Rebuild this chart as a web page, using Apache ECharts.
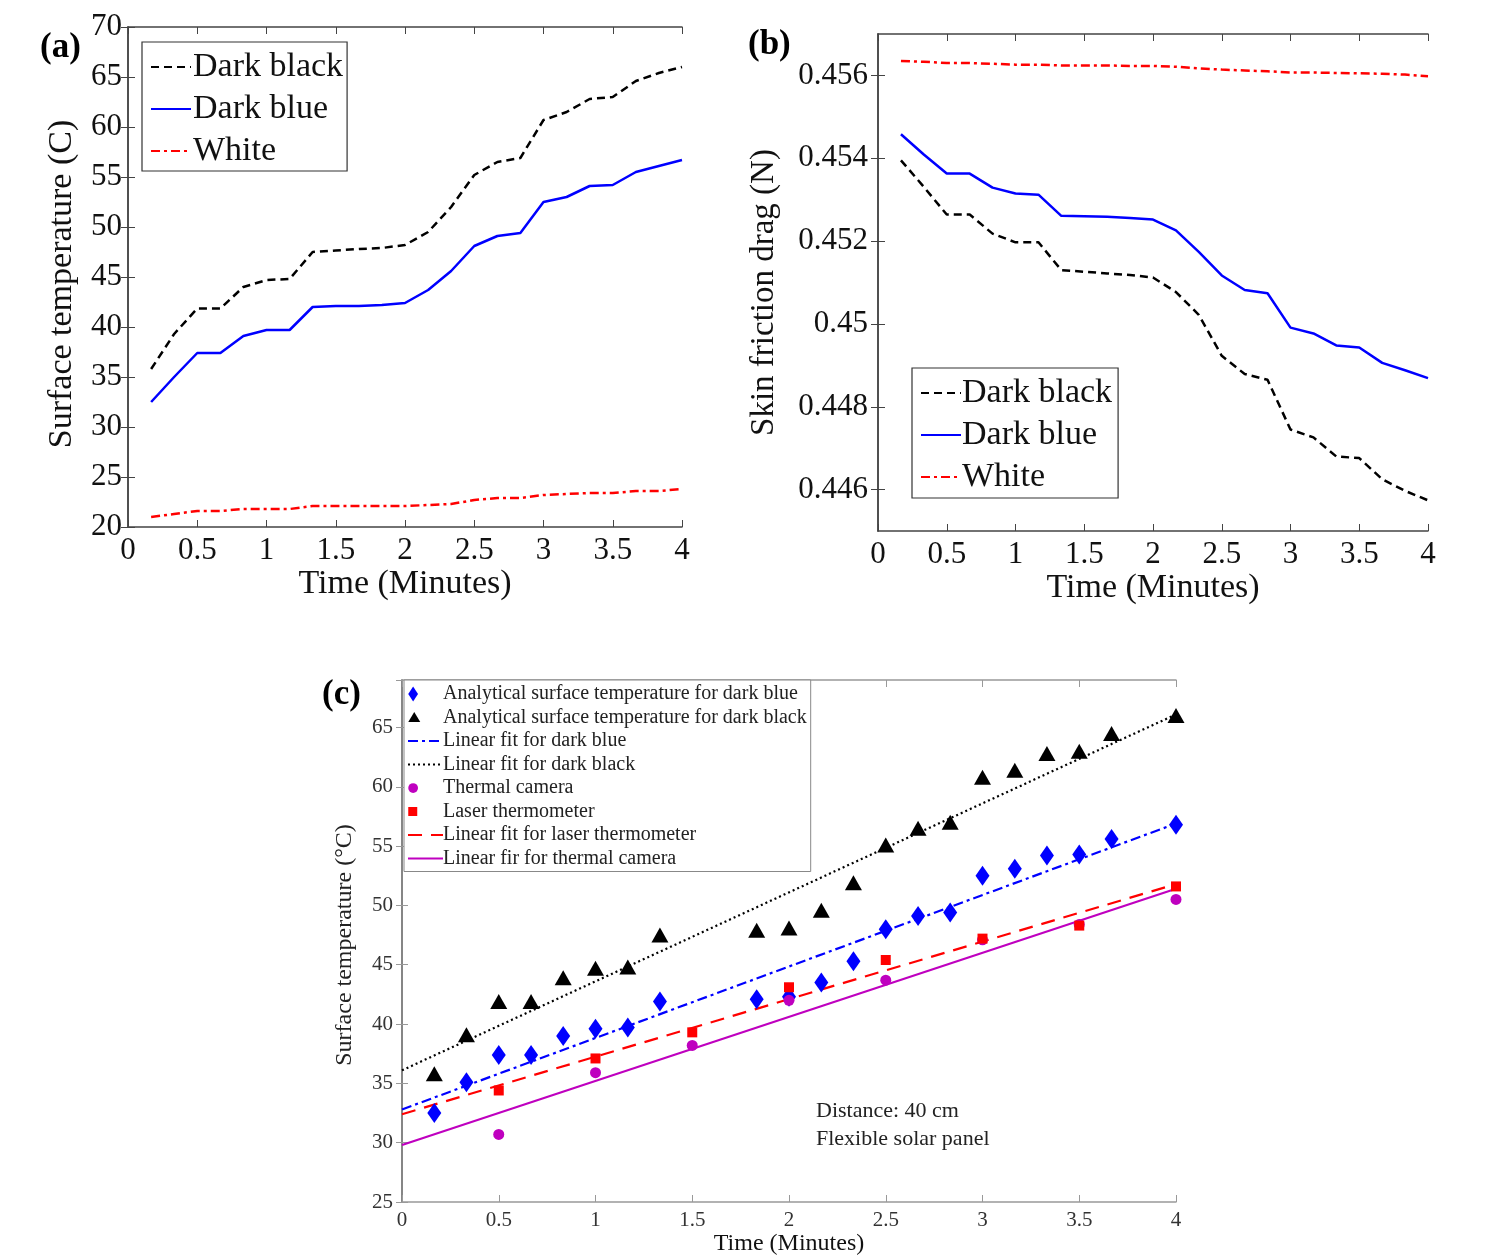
<!DOCTYPE html>
<html>
<head>
<meta charset="UTF-8">
<title>Surface temperature and skin friction drag</title>
<script src="https://cdn.jsdelivr.net/npm/echarts@6/dist/echarts.min.js"></script>
<style>html,body{margin:0;background:#fff;} #main{width:1494px;height:1258px;}</style>
</head>
<body>
<div id="main"></div>
<script>
// time axis of panels (a) and (b), minutes
var timeAB = [0.167, 0.333, 0.5, 0.667, 0.833, 1, 1.167, 1.333, 1.5, 1.667, 1.833, 2,
              2.167, 2.333, 2.5, 2.667, 2.833, 3, 3.167, 3.333, 3.5, 3.667, 3.833, 4];

// (a) surface temperature (C)
var tempBlack = [35.8, 39.3, 41.85, 41.85, 44.0, 44.7, 44.8, 47.5, 47.65, 47.8, 47.9, 48.2,
                 49.5, 52.0, 55.2, 56.5, 56.9, 60.7, 61.5, 62.8, 63.0, 64.6, 65.4, 66.0];
var tempBlue = [32.5, 35.0, 37.4, 37.4, 39.1, 39.7, 39.7, 42.0, 42.1, 42.1, 42.2, 42.4,
                43.7, 45.6, 48.1, 49.1, 49.4, 52.5, 53.0, 54.1, 54.2, 55.5, 56.1, 56.7];
var tempWhite = [21.0, 21.3, 21.6, 21.6, 21.8, 21.8, 21.8, 22.1, 22.1, 22.1, 22.1, 22.1,
                 22.2, 22.3, 22.7, 22.9, 22.9, 23.2, 23.3, 23.4, 23.4, 23.6, 23.6, 23.8];

// (b) skin friction drag (N)
var dragBlack = [0.45395, 0.45331, 0.45264, 0.45264, 0.45218, 0.45197, 0.45197, 0.4513, 0.45126, 0.45122, 0.45118, 0.45112,
                 0.45077, 0.45022, 0.44923, 0.44879, 0.44865, 0.44745, 0.44726, 0.4468, 0.44676, 0.44625, 0.44597, 0.44574];
var dragBlue = [0.45458, 0.45409, 0.45363, 0.45363, 0.45329, 0.45315, 0.45312, 0.45261, 0.4526, 0.45259, 0.45256, 0.45252,
                0.45226, 0.45174, 0.45117, 0.45082, 0.45074, 0.44991, 0.44977, 0.44948, 0.44943, 0.44906, 0.44888, 0.44869];
var dragWhite = [0.45635, 0.45633, 0.4563, 0.4563, 0.45628, 0.45626, 0.45626, 0.45624, 0.45624, 0.45624, 0.45623, 0.45623,
                 0.45621, 0.45617, 0.45614, 0.45612, 0.4561, 0.45607, 0.45607, 0.45606, 0.45605, 0.45604, 0.45602, 0.45598];
var dragTicks = [0.446, 0.448, 0.45, 0.452, 0.454, 0.456];

// (c) analytical points
var timeC = [0.167, 0.333, 0.5, 0.667, 0.833, 1, 1.167, 1.333, 1.833, 2, 2.167,
             2.333, 2.5, 2.667, 2.833, 3, 3.167, 3.333, 3.5, 3.667, 4];
var anaBlack = [35.8, 39.1, 41.9, 41.9, 43.9, 44.7, 44.8, 47.5, 47.9, 48.1, 49.6,
                51.9, 55.1, 56.5, 57.0, 60.8, 61.4, 62.8, 63.0, 64.5, 66.0];
var anaBlue = [32.5, 35.1, 37.4, 37.4, 39.0, 39.6, 39.7, 41.9, 42.1, 42.3, 43.5,
               45.3, 48.0, 49.1, 49.4, 52.5, 53.1, 54.2, 54.3, 55.6, 56.8];
// (c) measurements
var timeMeas = [0.5, 1, 1.5, 2, 2.5, 3, 3.5, 4];
var camera = [30.7, 35.9, 38.2, 42.0, 43.7, 47.1, 48.4, 50.5];
var laser = [34.4, 37.1, 39.3, 43.1, 45.4, 47.2, 48.3, 51.6];
// (c) linear fits, end points
var fitX = [0, 4];
var fitBlue = [32.8, 56.9];
var fitBlack = [36.1, 66.1];
var fitLaser = [32.4, 51.8];
var fitCamera = [29.8, 51.4];

var FONT = 'Liberation Serif';

function zip(xs, ys) {
    var res = [];
    for (var i = 0; i < xs.length; i++) res.push([xs[i], ys[i]]);
    return res;
}

// one visible axis plus a mirrored one for the matlab style box
function xAxes(grid, fs, lineColor, labelColor, nameSize, nameGap) {
    return [{
        gridIndex: grid, type: 'value', min: 0, max: 4, interval: 0.5,
        name: 'Time (Minutes)', nameLocation: 'middle', nameGap: nameGap,
        nameTextStyle: {fontFamily: FONT, fontSize: nameSize, color: '#111'},
        axisLine: {lineStyle: {color: lineColor, width: 1.5}},
        axisTick: {inside: true, length: 7, lineStyle: {color: lineColor}},
        axisLabel: {fontFamily: FONT, fontSize: fs, color: labelColor, margin: 8},
        splitLine: {show: false}
    }, {
        gridIndex: grid, type: 'value', position: 'top', min: 0, max: 4, interval: 0.5,
        axisLine: {lineStyle: {color: lineColor, width: 1.5}},
        axisTick: {inside: true, length: 7, lineStyle: {color: lineColor}},
        axisLabel: {show: false},
        splitLine: {show: false}
    }];
}

var myChart = echarts.init(document.getElementById('main'));

var xa = xAxes(0, 31, '#444', '#111', 34, 27);
var xb = xAxes(1, 31, '#444', '#111', 34, 31);
var xc = xAxes(2, 21, '#999', '#333', 24, 27);

var yTickA = {inside: true, length: 7, lineStyle: {color: '#444'}};
var yTickC = {inside: true, length: 6, lineStyle: {color: '#999'}};

// legend markers of panel (c): the leading moves widen the box so the mark sits at the left
var iconDiamond = 'path://M0,0M46,20M6.5,0L13,10L6.5,20L0,10Z';
var iconTriangle = 'path://M0,0M46,20M0,16L8,2.5L16,16Z';
var iconCircle = 'path://M0,0M46,20M0,10A6.5,6.5,0,1,1,13,10A6.5,6.5,0,1,1,0,10Z';
var iconSquare = 'path://M0,0M46,20M0,4L12,4L12,16L0,16Z';

var option = {
    backgroundColor: '#fff',
    animation: false,
    grid: [
        {left: 128, top: 27, width: 554, height: 500},
        {left: 878, top: 34, width: 550, height: 497},
        {left: 402, top: 680, width: 774, height: 522}
    ],
    xAxis: xa.concat(xb, xc),
    yAxis: [
        {
            gridIndex: 0, type: 'value', min: 20, max: 70, interval: 5,
            name: 'Surface temperature (C)', nameLocation: 'middle', nameGap: 49,
            nameTextStyle: {fontFamily: FONT, fontSize: 34, color: '#111', padding: [0, 14, 0, 0]},
            axisLine: {lineStyle: {color: '#444', width: 1.5}},
            axisTick: yTickA,
            axisLabel: {fontFamily: FONT, fontSize: 31, color: '#111', margin: 6},
            splitLine: {show: false}
        },
        {
            gridIndex: 0, type: 'value', position: 'right', min: 20, max: 70, interval: 5,
            axisLine: {show: true, lineStyle: {color: '#444', width: 1.5}},
            axisTick: yTickA, axisLabel: {show: false}, splitLine: {show: false}
        },
        {
            gridIndex: 1, type: 'value', min: 0.445, max: 0.457,
            name: 'Skin friction drag (N)', nameLocation: 'middle', nameGap: 97,
            nameTextStyle: {fontFamily: FONT, fontSize: 33, color: '#111', padding: [0, 20, 0, 0]},
            axisLine: {lineStyle: {color: '#444', width: 1.5}},
            axisTick: {inside: true, length: 7, lineStyle: {color: '#444'}, customValues: dragTicks},
            axisLabel: {
                fontFamily: FONT, fontSize: 31, color: '#111', margin: 10,
                customValues: dragTicks,
                formatter: function (v) { return String(parseFloat(v.toFixed(3))); }
            },
            splitLine: {show: false}
        },
        {
            gridIndex: 1, type: 'value', position: 'right', min: 0.445, max: 0.457,
            axisLine: {show: true, lineStyle: {color: '#444', width: 1.5}},
            axisTick: {inside: true, length: 7, lineStyle: {color: '#444'}, customValues: dragTicks},
            axisLabel: {show: false, customValues: dragTicks}, splitLine: {show: false}
        },
        {
            gridIndex: 2, type: 'value', min: 25, max: 69, interval: 5,
            name: 'Surface temperature (°C)', nameLocation: 'middle', nameGap: 45,
            nameTextStyle: {fontFamily: FONT, fontSize: 24, color: '#222', padding: [0, 8, 0, 0]},
            axisLine: {lineStyle: {color: '#999', width: 1.5}},
            axisTick: yTickC,
            axisLabel: {fontFamily: FONT, fontSize: 21, color: '#333', margin: 9, showMaxLabel: false},
            splitLine: {show: false}
        },
        {
            gridIndex: 2, type: 'value', position: 'right', min: 25, max: 69, interval: 5,
            axisLine: {show: true, lineStyle: {color: '#777', width: 1.5}},
            axisTick: yTickC, axisLabel: {show: false}, splitLine: {show: false}
        }
    ],
    legend: [
        {
            data: ['Dark black', 'Dark blue', 'White'],
            orient: 'vertical', left: 142, top: 42,
            itemWidth: 40, itemHeight: 14, itemGap: 8,
            itemStyle: {opacity: 0},
            padding: [8, 4, 3, 8],
            borderColor: '#333', borderWidth: 1.2, backgroundColor: '#fff',
            textStyle: {fontFamily: FONT, fontSize: 34, color: '#111', lineHeight: 34, padding: [0, 0, 0, -3]}
        },
        {
            data: ['Dark black', 'Dark blue', 'White'],
            orient: 'vertical', left: 912, top: 368,
            itemWidth: 40, itemHeight: 14, itemGap: 8,
            itemStyle: {opacity: 0},
            padding: [8, 6, 4, 8],
            borderColor: '#333', borderWidth: 1.2, backgroundColor: '#fff',
            textStyle: {fontFamily: FONT, fontSize: 34, color: '#111', lineHeight: 34, padding: [0, 0, 0, -4]}
        },
        {
            data: [
                {name: 'Analytical surface temperature for dark blue', icon: iconDiamond},
                {name: 'Analytical surface temperature for dark black', icon: iconTriangle},
                {name: 'Linear fit for dark blue', itemStyle: {opacity: 0}},
                {name: 'Linear fit for dark black', itemStyle: {opacity: 0}},
                {name: 'Thermal camera', icon: iconCircle},
                {name: 'Laser thermometer', icon: iconSquare},
                {name: 'Linear fit for laser thermometer', itemStyle: {opacity: 0}},
                {name: 'Linear fir for thermal camera', itemStyle: {opacity: 0}}
            ],
            orient: 'vertical', left: 404, top: 680,
            itemWidth: 35, itemHeight: 15, itemGap: 3.5,
            padding: [4, 4, 3, 3],
            borderColor: '#888', borderWidth: 1, backgroundColor: '#fff',
            textStyle: {fontFamily: FONT, fontSize: 20, color: '#222', lineHeight: 20, padding: [0, 0, 0, -5]}
        }
    ],
    graphic: [
        {type: 'text', left: 40, top: 30, style: {text: '(a)', font: 'bold 35px "Liberation Serif"', fill: '#000'}},
        {type: 'text', left: 748, top: 27, style: {text: '(b)', font: 'bold 35px "Liberation Serif"', fill: '#000'}},
        {type: 'text', left: 322, top: 677, style: {text: '(c)', font: 'bold 35px "Liberation Serif"', fill: '#000'}},
        {type: 'text', left: 816, top: 1097, style: {
            text: 'Distance: 40 cm\nFlexible solar panel', font: '22px "Liberation Serif"',
            lineHeight: 28, fill: '#222'}}
    ],
    series: [
        // (a)
        {name: 'Dark black', type: 'line', xAxisIndex: 0, yAxisIndex: 0, symbol: 'none',
         data: zip(timeAB, tempBlack), lineStyle: {color: '#000', width: 2.5, type: [8, 5]}, itemStyle: {color: '#000'}},
        {name: 'Dark blue', type: 'line', xAxisIndex: 0, yAxisIndex: 0, symbol: 'none',
         data: zip(timeAB, tempBlue), lineStyle: {color: '#0000ff', width: 2.5}, itemStyle: {color: '#0000ff'}},
        {name: 'White', type: 'line', xAxisIndex: 0, yAxisIndex: 0, symbol: 'none',
         data: zip(timeAB, tempWhite), lineStyle: {color: '#ff0000', width: 2.5, type: [9, 4, 3, 4]}, itemStyle: {color: '#ff0000'}},
        // (b)
        {name: 'Dark black', type: 'line', xAxisIndex: 2, yAxisIndex: 2, symbol: 'none',
         data: zip(timeAB, dragBlack), lineStyle: {color: '#000', width: 2.5, type: [8, 5]}, itemStyle: {color: '#000'}},
        {name: 'Dark blue', type: 'line', xAxisIndex: 2, yAxisIndex: 2, symbol: 'none',
         data: zip(timeAB, dragBlue), lineStyle: {color: '#0000ff', width: 2.5}, itemStyle: {color: '#0000ff'}},
        {name: 'White', type: 'line', xAxisIndex: 2, yAxisIndex: 2, symbol: 'none',
         data: zip(timeAB, dragWhite), lineStyle: {color: '#ff0000', width: 2.5, type: [9, 4, 3, 4]}, itemStyle: {color: '#ff0000'}},
        // (c) fits
        {name: 'Linear fit for dark blue', type: 'line', xAxisIndex: 4, yAxisIndex: 4, symbol: 'none',
         data: zip(fitX, fitBlue), lineStyle: {color: '#0000ff', width: 2.2, type: [10, 4, 3, 4]}, itemStyle: {color: '#0000ff'}},
        {name: 'Linear fit for dark black', type: 'line', xAxisIndex: 4, yAxisIndex: 4, symbol: 'none',
         data: zip(fitX, fitBlack), lineStyle: {color: '#000', width: 2.2, type: [2, 3]}, itemStyle: {color: '#000'}},
        {name: 'Linear fit for laser thermometer', type: 'line', xAxisIndex: 4, yAxisIndex: 4, symbol: 'none',
         data: zip(fitX, fitLaser), lineStyle: {color: '#ff0000', width: 2.2, type: [14, 9]}, itemStyle: {color: '#ff0000'}},
        {name: 'Linear fir for thermal camera', type: 'line', xAxisIndex: 4, yAxisIndex: 4, symbol: 'none',
         data: zip(fitX, fitCamera), lineStyle: {color: '#bf00bf', width: 2.2}, itemStyle: {color: '#bf00bf'}},
        // (c) points
        {name: 'Analytical surface temperature for dark blue', type: 'scatter', xAxisIndex: 4, yAxisIndex: 4,
         symbol: 'diamond', symbolSize: [14, 20], data: zip(timeC, anaBlue), itemStyle: {color: '#0000ff', opacity: 1}, z: 5},
        {name: 'Analytical surface temperature for dark black', type: 'scatter', xAxisIndex: 4, yAxisIndex: 4,
         symbol: 'triangle', symbolSize: [17, 15], data: zip(timeC, anaBlack), itemStyle: {color: '#000', opacity: 1}, z: 5},
        {name: 'Thermal camera', type: 'scatter', xAxisIndex: 4, yAxisIndex: 4,
         symbol: 'circle', symbolSize: 11, data: zip(timeMeas, camera), itemStyle: {color: '#bf00bf', opacity: 1}, z: 5},
        {name: 'Laser thermometer', type: 'scatter', xAxisIndex: 4, yAxisIndex: 4,
         symbol: 'rect', symbolSize: 10, data: zip(timeMeas, laser), itemStyle: {color: '#ff0000', opacity: 1}, z: 6}
    ]
};

myChart.setOption(option);
</script>
</body>
</html>
